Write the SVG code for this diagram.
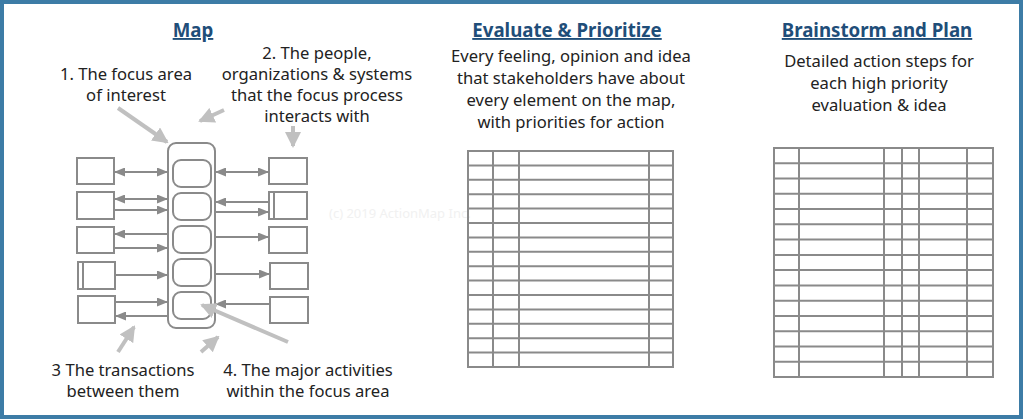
<svg xmlns="http://www.w3.org/2000/svg" width="1024" height="420" viewBox="0 0 1024 420">
<defs>
<style>
.h{font-family:"Noto Sans","Open Sans","Liberation Sans",sans-serif;font-weight:bold;font-size:18.7px;fill:#1f4e79;text-anchor:middle;text-decoration:underline}
.t{font-family:"Noto Sans","Open Sans","Liberation Sans",sans-serif;font-size:16.6px;fill:#222;text-anchor:middle}
.box{fill:#fff;stroke:#8a8a8a;stroke-width:2}
.grid{fill:none;stroke:#8a8a8a;stroke-width:2}
.c{stroke:#8a8a8a;stroke-width:2;fill:none}
.call{stroke:#c0c0c0;stroke-width:4;fill:none;marker-end:url(#ca)}
.wm{font-family:"Noto Sans","Open Sans","Liberation Sans",sans-serif;font-size:13px;fill:#f1f1f1}
</style>
<marker id="ah" markerUnits="userSpaceOnUse" markerWidth="11" markerHeight="9" refX="10" refY="4.5" orient="auto-start-reverse"><path d="M0,0 L11,4.5 L0,9 z" fill="#8a8a8a"/></marker>
<marker id="ca" markerUnits="userSpaceOnUse" markerWidth="16" markerHeight="16" refX="14" refY="8" orient="auto"><path d="M0,0 L16,8 L0,16 z" fill="#c0c0c0"/></marker>
</defs>
<rect x="0" y="0" width="1024" height="420" fill="#fff"/>
<rect x="2" y="2" width="1019" height="415" fill="none" stroke="#3d7ca6" stroke-width="4"/>
<text class="wm" x="329" y="218">(c) 2019 ActionMap Inc.</text>

<g id="headings">
<text class="h" x="193" y="37">Map</text>
<text class="h" x="567" y="37">Evaluate &amp; Prioritize</text>
<text class="h" x="877" y="37">Brainstorm and Plan</text>
</g>

<g id="label1"><text class="t" x="126" y="80">1. The focus area</text><text class="t" x="126" y="101">of interest</text></g>
<g id="label2"><text class="t" x="317" y="59">2. The people,</text><text class="t" x="317" y="80">organizations &amp; systems</text><text class="t" x="317" y="101">that the focus process</text><text class="t" x="317" y="122">interacts with</text></g>
<g id="label3"><text class="t" x="123" y="376">3 The transactions</text><text class="t" x="123" y="397">between them</text></g>
<g id="label4"><text class="t" x="308" y="376">4. The major activities</text><text class="t" x="308" y="397">within the focus area</text></g>
<g id="evalText"><text class="t" x="571" y="62">Every feeling, opinion and idea</text><text class="t" x="571" y="84">that stakeholders have about</text><text class="t" x="571" y="106">every element on the map,</text><text class="t" x="571" y="128">with priorities for action</text></g>
<g id="planText"><text class="t" x="879" y="67">Detailed action steps for</text><text class="t" x="879" y="89">each high priority</text><text class="t" x="879" y="111">evaluation &amp; idea</text></g>

<g id="focus"><rect class="box" x="168" y="143" width="47" height="185" rx="8"/></g>
<g id="act1"><rect class="box" x="173" y="160" width="38" height="27" rx="8"/></g>
<g id="act2"><rect class="box" x="173" y="193" width="38" height="27" rx="8"/></g>
<g id="act3"><rect class="box" x="173" y="226" width="38" height="27" rx="8"/></g>
<g id="act4"><rect class="box" x="173" y="259" width="38" height="27" rx="8"/></g>
<g id="act5"><rect class="box" x="173" y="292" width="38" height="27" rx="8"/></g>

<g id="left1"><rect class="box" x="77" y="158" width="37" height="26"/></g>
<g id="left2"><rect class="box" x="77" y="192" width="37" height="27"/></g>
<g id="left3"><rect class="box" x="77" y="227" width="37" height="26"/></g>
<g id="left4"><rect class="box" x="78" y="262" width="37" height="27"/><line class="c" x1="83" y1="262" x2="83" y2="289"/></g>
<g id="left5"><rect class="box" x="78" y="296" width="37" height="27"/></g>
<g id="right1"><rect class="box" x="269" y="158" width="38" height="26"/></g>
<g id="right2"><rect class="box" x="269" y="192" width="38" height="27"/><line class="c" x1="274" y1="192" x2="274" y2="219"/></g>
<g id="right3"><rect class="box" x="269" y="227" width="38" height="26"/></g>
<g id="right4"><rect class="box" x="270" y="263" width="38" height="26"/></g>
<g id="right5"><rect class="box" x="270" y="297" width="38" height="26"/></g>

<g id="connectors">
<line class="c" x1="115" y1="172" x2="167" y2="172" marker-start="url(#ah)" marker-end="url(#ah)"/>
<line class="c" x1="115" y1="199" x2="167" y2="199" marker-start="url(#ah)" marker-end="url(#ah)"/>
<line class="c" x1="114" y1="210" x2="167" y2="210" marker-end="url(#ah)"/>
<line class="c" x1="168" y1="234" x2="115" y2="234" marker-end="url(#ah)"/>
<line class="c" x1="114" y1="248" x2="167" y2="248" marker-end="url(#ah)"/>
<line class="c" x1="115" y1="275" x2="167" y2="275" marker-end="url(#ah)"/>
<line class="c" x1="115" y1="302" x2="167" y2="302" marker-end="url(#ah)"/>
<line class="c" x1="168" y1="316" x2="116" y2="316" marker-end="url(#ah)"/>
<line class="c" x1="216" y1="172" x2="268" y2="172" marker-start="url(#ah)" marker-end="url(#ah)"/>
<line class="c" x1="269" y1="202" x2="216" y2="202" marker-end="url(#ah)"/>
<line class="c" x1="215" y1="212" x2="268" y2="212" marker-end="url(#ah)"/>
<line class="c" x1="215" y1="237" x2="268" y2="237" marker-end="url(#ah)"/>
<line class="c" x1="215" y1="274" x2="269" y2="274" marker-end="url(#ah)"/>
<line class="c" x1="270" y1="304" x2="216" y2="304" marker-end="url(#ah)"/>
<line class="call" x1="118" y1="108" x2="167" y2="142"/>
<line class="call" x1="224" y1="110" x2="200" y2="121"/>
<line class="call" x1="293" y1="126" x2="293" y2="146"/>
<line class="call" x1="118" y1="352" x2="134" y2="327"/>
<line class="call" x1="201" y1="352" x2="218" y2="337"/>
<line class="call" x1="288" y1="342" x2="202" y2="305"/>
</g>

<g id="evalTable">
<rect class="grid" x="468" y="151" width="205" height="216"/>
<path class="grid" d="M493,151V367M519,151V367M649,151V367M468,165.4H673M468,179.8H673M468,194.2H673M468,208.6H673M468,223H673M468,237.4H673M468,251.8H673M468,266.2H673M468,280.6H673M468,295H673M468,309.4H673M468,323.8H673M468,338.2H673M468,352.6H673"/>
</g>
<g id="planTable">
<rect class="grid" x="774" y="148" width="219" height="229"/>
<path class="grid" d="M799,148V377M884,148V377M902,148V377M919,148V377M967,148V377M774,163.3H993M774,178.5H993M774,193.8H993M774,209.1H993M774,224.3H993M774,239.6H993M774,254.9H993M774,270.1H993M774,285.4H993M774,300.7H993M774,315.9H993M774,331.2H993M774,346.5H993M774,361.7H993"/>
</g>
</svg>
